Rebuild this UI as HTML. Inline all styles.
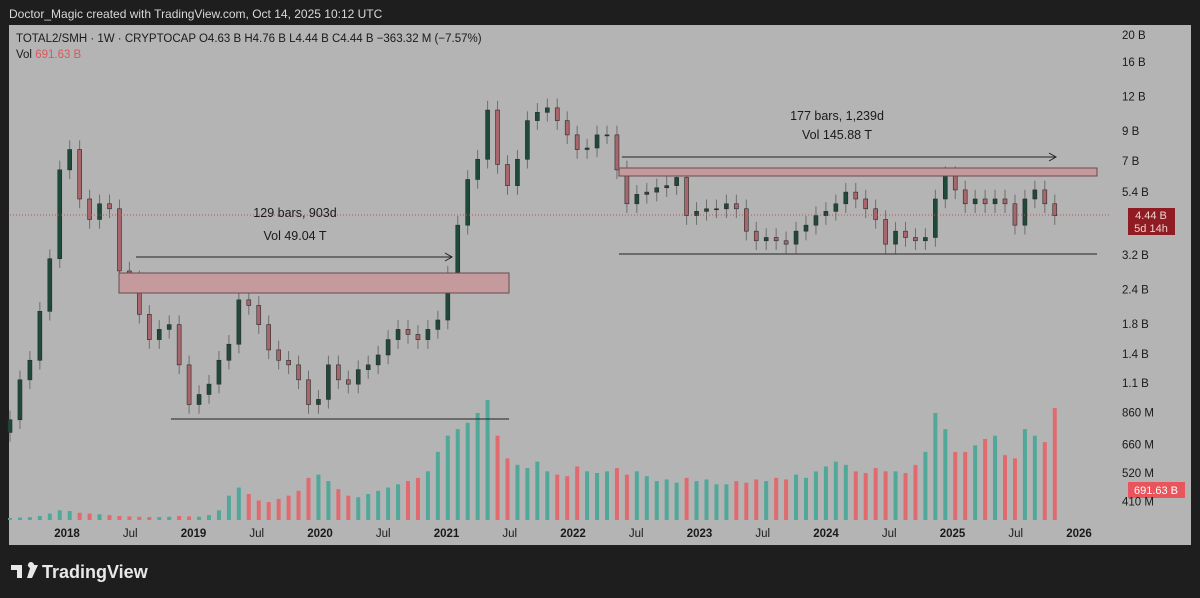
<!DOCTYPE html>
<html><head><meta charset="utf-8"><style>
body{margin:0;background:#1e1e1e;width:1200px;height:598px;overflow:hidden;font-family:"Liberation Sans",sans-serif}
svg{display:block}
</style></head><body>
<svg id="c" width="1200" height="598" xmlns="http://www.w3.org/2000/svg">
<rect x="0" y="0" width="1200" height="598" fill="#1e1e1e"/>
<text x="9" y="18" fill="#d8d8d8" font-size="12">Doctor_Magic created with TradingView.com, Oct 14, 2025 10:12 UTC</text>
<rect x="9" y="25" width="1182" height="520" fill="#b4b4b4"/>
<g id="grid"></g>
<g id="vol"></g>
<g id="candles"></g>
<g id="ann"></g>
<g id="axis"></g>
<text x="16" y="42" fill="#1a1a1a" font-size="11.5">TOTAL2/SMH · 1W · CRYPTOCAP  O4.63 B  H4.76 B  L4.44 B  C4.44 B  −363.32 M (−7.57%)</text>
<text x="16" y="58" fill="#1a1a1a" font-size="11.5">Vol <tspan fill="#d9585e">691.63 B</tspan></text>
<g>
<path d="M11 565h11v13h-5v-8h-6z M24 565h4a3 3 0 1 1 0 .1z M31 565h7l-6 13h-5z" fill="#e8e8e8"/>
<text x="42" y="578" fill="#e8e8e8" font-size="18" font-weight="bold">TradingView</text>
</g>
</svg>
<script>
const closes=[0.81,1.13,1.33,2.0,3.1,6.5,7.7,5.1,4.3,4.9,4.7,2.8,2.6,1.95,1.58,1.72,1.79,1.28,0.92,1.0,1.09,1.33,1.52,2.2,2.1,1.79,1.45,1.33,1.28,1.13,0.92,0.96,1.28,1.13,1.09,1.23,1.28,1.39,1.58,1.72,1.65,1.58,1.72,1.86,2.7,4.1,6.0,7.1,10.7,6.8,5.7,7.1,9.8,10.5,10.9,9.8,8.7,7.7,7.8,8.7,8.7,6.5,4.9,5.3,5.4,5.6,5.7,6.1,4.44,4.6,4.7,4.7,4.9,4.7,3.9,3.6,3.7,3.6,3.5,3.9,4.1,4.44,4.6,4.9,5.4,5.1,4.7,4.3,3.5,3.9,3.7,3.6,3.7,5.1,6.2,5.5,4.9,5.1,4.9,5.1,4.9,4.1,5.1,5.5,4.9,4.44];
const volumes=[12,15,18,25,40,60,55,45,40,35,30,25,22,20,18,18,20,25,22,20,30,60,150,200,160,120,110,130,150,180,260,280,240,190,150,140,160,180,200,220,240,260,300,420,520,560,600,660,740,520,380,340,320,360,300,280,270,330,300,290,300,320,280,300,270,240,250,230,260,240,250,220,220,240,230,250,240,260,250,280,260,300,330,360,340,300,290,320,300,300,290,340,420,660,560,420,420,460,500,520,400,380,560,520,480,690];
const yTicks=[20,16,12,9,7,5.4,3.2,2.4,1.8,1.4,1.1,0.86,0.66,0.52,0.41];
const xTicks=[["2018",2018,1],["Jul",2018.5,0],["2019",2019,1],["Jul",2019.5,0],["2020",2020,1],["Jul",2020.5,0],["2021",2021,1],["Jul",2021.5,0],["2022",2022,1],["Jul",2022.5,0],["2023",2023,1],["Jul",2023.5,0],["2024",2024,1],["Jul",2024.5,0],["2025",2025,1],["Jul",2025.5,0],["2026",2026,1]];
const NS="http://www.w3.org/2000/svg";
const yOf=v=>35+(Math.log(20)-Math.log(v))*120;
const xOfYear=t=>67+(t-2018)*126.5;
const xOfIdx=i=>10+i*9.95;
function mk(tag,attrs,parent){const e=document.createElementNS(NS,tag);for(const k in attrs)e.setAttribute(k,attrs[k]);document.getElementById(parent).appendChild(e);return e;}
const vMax=Math.max(...volumes);
volumes.forEach((v,i)=>{const h=v/vMax*120;const up=i===0||closes[i]>=closes[i-1];
const r=mk('rect',{x:xOfIdx(i)-2,y:520-h,width:4,height:h,fill:up?'#4fa89a':'#e06a6e'},'vol');

});
closes.forEach((c,i)=>{const o=i===0?c*0.9:closes[i-1];const up=c>=o;const x=xOfIdx(i);
const hi=Math.max(o,c)*1.08,lo=Math.min(o,c)/1.08;
const w=mk('line',{x1:x,x2:x,y1:yOf(hi),y2:yOf(lo),stroke:'#6e6e6e','stroke-width':1},'candles');


const top=yOf(Math.max(o,c)),bot=yOf(Math.min(o,c));
const b=mk('rect',{x:x-2,y:top,width:4,height:Math.max(1,bot-top),fill:up?'#1f4a3a':'#a8676c',stroke:'#2a2a2a','stroke-width':0.6},'candles');

});
yTicks.forEach(v=>{const t=mk('text',{x:1122,y:yOf(v)+4,fill:'#1a1a1a','font-size':11.5},'axis');
t.textContent=v>=1?v+' B':Math.round(v*1000)+' M';

});
xTicks.forEach(([l,t,b])=>{const e=mk('text',{x:xOfYear(t),y:537,fill:'#1a1a1a','font-size':11.5,'text-anchor':'middle','font-weight':b?'bold':'normal'},'axis');e.textContent=l;

});
const A=document.getElementById('ann');
A.innerHTML=`
<line x1="10" x2="1110" y1="215" y2="215" stroke="#c05050" stroke-dasharray="1,2"/>
<rect x="119" y="273" width="390" height="20" fill="#c49a9d" stroke="#6a4a4c"/>
<rect x="619" y="168" width="478" height="8" fill="#c49a9d" stroke="#6a4a4c"/>
<line x1="171" x2="509" y1="419" y2="419" stroke="#222"/>
<line x1="619" x2="1097" y1="254" y2="254" stroke="#222"/>
<g><line x1="136" x2="451" y1="257" y2="257" stroke="#222"/><path d="M445 253L452 257L445 261" fill="none" stroke="#222"/>
<text x="295" y="217" font-size="12.5" fill="#1a1a1a" text-anchor="middle">129 bars, 903d</text><text x="295" y="240" font-size="12.5" fill="#1a1a1a" text-anchor="middle">Vol 49.04 T</text></g>
<g><line x1="622" x2="1055" y1="157" y2="157" stroke="#222"/><path d="M1049 153L1056 157L1049 161" fill="none" stroke="#222"/>
<text x="837" y="120" font-size="12.5" fill="#1a1a1a" text-anchor="middle">177 bars, 1,239d</text><text x="837" y="139" font-size="12.5" fill="#1a1a1a" text-anchor="middle">Vol 145.88 T</text></g>
<g><rect x="1128" y="208" width="47" height="27" fill="#8f1c22"/><text x="1151" y="219" fill="#f2d0d0" font-size="11" text-anchor="middle">4.44 B</text><text x="1151" y="232" fill="#f2d0d0" font-size="11" text-anchor="middle">5d 14h</text></g>
<g><rect x="1128" y="482" width="57" height="16" fill="#e8555c"/><text x="1156" y="494" fill="#fff" font-size="11" text-anchor="middle">691.63 B</text></g>`;
</script>
</body></html>
